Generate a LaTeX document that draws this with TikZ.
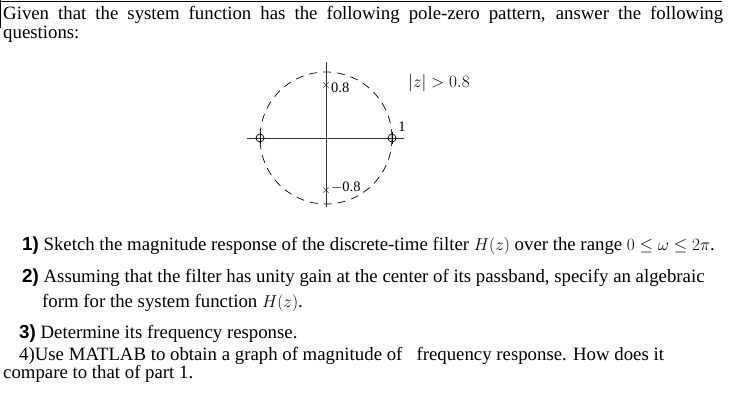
\documentclass[tikz,border=0pt]{standalone}
\usepackage{fontspec}
\setmainfont{Liberation Serif}
\newfontfamily\numfont{Liberation Sans}
\begin{document}
\begin{tikzpicture}[x=1pt,y=-1pt,
  txt/.style={anchor=base west,inner sep=0pt,font=\fontsize{18.8}{20}\selectfont},
  lab/.style={inner sep=0pt,font=\fontsize{14.5}{15}\selectfont},
  axis/.style={line width=0.9pt,black!80},
  zero/.style={circle,draw,line width=0.7pt,minimum size=8pt,inner sep=0pt},
  pole/.style={inner sep=0pt,font=\fontsize{13}{13}\selectfont}]
\useasboundingbox (0,0) rectangle (751,415);
\draw[line width=1pt] (0,1) -- (722,1);
\draw[line width=0.8pt] (0.5,0) -- (0.5,28);
\node[txt] (l1) at (3,19) {\makebox[720pt][s]{Given that the system function has the following pole-zero pattern, answer the following}};
\node[txt] (l2) at (3,38) {questions:};
% pole-zero plot
\coordinate (c) at (326,138);
\draw[dash pattern=on 8pt off 6pt,line width=0.7pt] (c) circle (66);
\draw[axis] (247,138) -- (404,138);
\draw[axis] (326,62) -- (326,207);
\node[zero] (z1) at (260,138) {};
\node[zero] (z2) at (392,138) {};
\draw[line width=0.7pt] (260,132) -- (260,144) (392,132) -- (392,144);
\node[pole] (p1) at (326,85) {$\times$};
\node[pole] (p2) at (326,190) {$\times$};
\node[lab,anchor=base west] (t1) at (331,92) {0.8};
\node[lab,anchor=base west] (t2) at (331,191) {$-$0.8};
\node[lab,anchor=base] (t3) at (402,131) {1};
\node[lab,anchor=base west,font=\fontsize{16.5}{17}\selectfont] (t4) at (408,87) {$|z|>0.8$};
% questions
\node[txt] (q1) at (22,250) {{\numfont\bfseries 1)} Sketch the magnitude response of the discrete-time filter $H(z)$ over the range $0\le\omega\le2\pi$.};
\node[txt] (q2) at (22,282) {{\numfont\bfseries 2)} Assuming that the filter has unity gain at the center of its passband, specify an algebraic};
\node[txt] (q2b) at (42,307) {form for the system function $H(z)$.};
\node[txt] (q3) at (19,338) {{\numfont\bfseries 3)} Determine its frequency response.};
\node[txt] (q4) at (19,360) {4)Use MATLAB to obtain a graph of magnitude of \ \ frequency response. How does it};
\node[txt] (q4b) at (3,378) {compare to that of part 1.};
\end{tikzpicture}
\end{document}
